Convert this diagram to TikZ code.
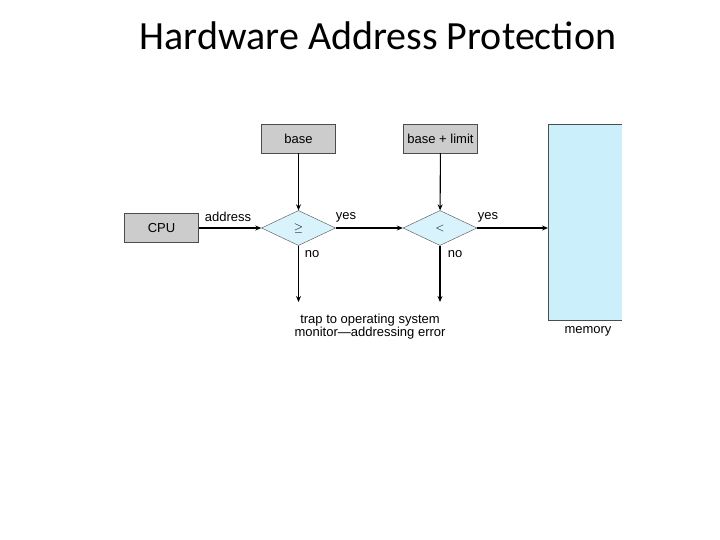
\documentclass[tikz,border=0pt]{standalone}
\usepackage{fontspec}
\setmainfont{Liberation Sans}
\newfontfamily\titlefont{Carlito}
\usetikzlibrary{shapes.geometric,arrows.meta}
\begin{document}
\begin{tikzpicture}[x=1pt,y=-1pt,
  box/.style={draw=black!70,fill=black!20,minimum width=74pt,minimum height=29pt,inner sep=0pt,font=\fontsize{13}{15}\selectfont},
  dia/.style={diamond,draw=black!70,fill=cyan!15,minimum width=74pt,minimum height=35pt,inner sep=0pt,aspect=2.1,font=\fontsize{13}{15}\selectfont},
  lab/.style={font=\fontsize{13}{15}\selectfont,inner sep=0pt},
  arr/.style={-{Stealth[length=6pt,width=5pt]},line width=1.1pt}]
\useasboundingbox (0,0) rectangle (720,540);
\node[font=\titlefont\fontsize{40}{46}\selectfont] (title) at (378,36) {Hardware Address Protection};
\node[box] (cpu) at (161.5,228) {CPU};
\node[box] (base) at (298.5,138.5) {base};
\node[box] (bl) at (440.5,138.5) {base + limit};
\node[dia] (d1) at (298.5,228) {$\geq$};
\node[dia] (d2) at (440,228) {$<$};
\fill[cyan!20] (548,124) rectangle (622,320);
\draw[black!70] (622,124) -- (548,124) -- (548,320) -- (622,320);
\coordinate (mem) at (548,228);
\coordinate (t1) at (298.5,302);
\coordinate (t2) at (440,302);
\draw[arr] (cpu) -- (d1);
\draw[arr] (d1) -- (d2);
\draw[arr] (d2) -- (mem);
\draw[arr] (base) -- (d1);
\draw[arr] (bl) -- (d2);
\draw[arr] (d1) -- (t1);
\draw[arr] (d2) -- (t2);
\node[lab] (a) at (228,217) {address};
\node[lab] (y1) at (346,217) {yes};
\node[lab] (y2) at (488,217) {yes};
\node[lab] (n1) at (312,254) {no};
\node[lab] (n2) at (455,254) {no};
\node[lab,align=center] (trap) at (370,327) {trap to operating system\\[-2pt]monitor---addressing error};
\node[lab] (m) at (588,331) {memory};
\end{tikzpicture}
\end{document}
